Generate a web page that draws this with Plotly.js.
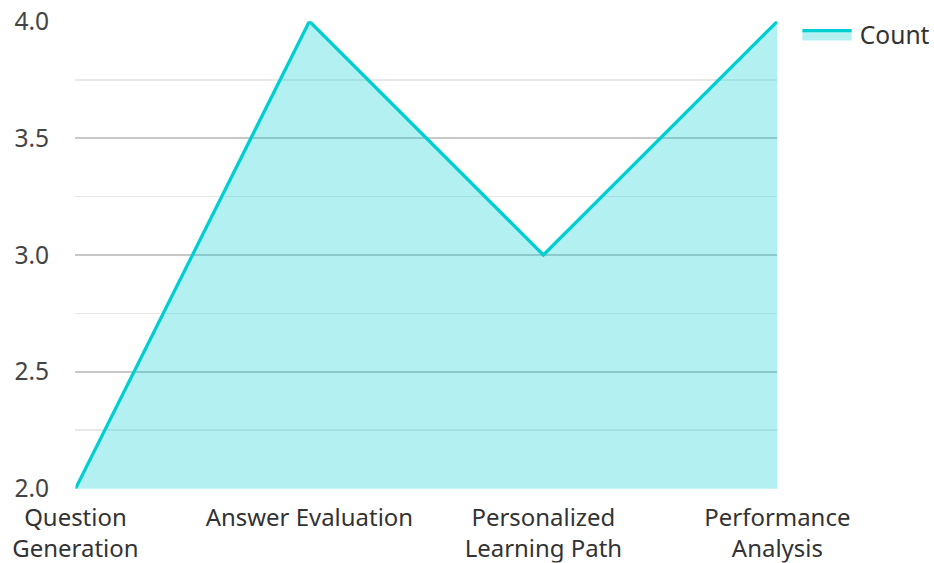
<!DOCTYPE html>
<html>
<head>
<meta charset="utf-8">
<script src="https://cdn.plot.ly/plotly-3.0.1.min.js"></script>
<style>
html,body{margin:0;padding:0;background:#fff;overflow:hidden;}
#wrap{width:934px;height:563px;overflow:hidden;}
#chart{transform-origin:0 0;}
</style>
</head>
<body>
<div id="wrap"><div id="chart"></div></div>
<script>
const categories = ["Question<br>Generation", "Answer Evaluation", "Personalized<br>Learning Path", "Performance<br>Analysis"];
const counts = [2, 4, 3, 4];
const seriesName = "Count";

const S = 1.64;
const W = 934 / S, H = 563 / S;
const el = document.getElementById("chart");
el.style.transform = "scale(" + S + ")";
el.style.width = W + "px";
el.style.height = H + "px";

const trace = {
  type: "scatter",
  mode: "lines",
  x: categories,
  y: counts,
  name: seriesName,
  fill: "tozeroy",
  fillcolor: "rgba(0,206,209,0.3)",
  line: {color: "#00CED1", width: 2}
};

const layout = {
  width: W,
  height: H,
  margin: {l: 75 / S, r: 158 / S, t: 22 / S, b: 74 / S, autoexpand: false},
  paper_bgcolor: "#fff",
  plot_bgcolor: "#fff",
  font: {family: "Noto Sans, Open Sans, sans-serif", size: 15, color: "#444"},
  showlegend: true,
  legend: {x: 1.024, y: 1.03, xanchor: "left", yanchor: "top", font: {size: 15, color: "#333"}},
  xaxis: {
    type: "category",
    range: [0, 3],
    showgrid: false,
    zeroline: false,
    showline: false,
    ticks: "",
    ticklabelstandoff: 7,
    tickfont: {size: 14.6, color: "#333"}
  },
  yaxis: {
    range: [2, 4],
    dtick: 0.5,
    tickformat: ".1f",
    showgrid: true,
    gridcolor: "#c8c8c8",
    gridwidth: 1,
    zeroline: false,
    showline: false,
    ticks: "",
    ticklabelstandoff: 15,
    minor: {dtick: 0.25, showgrid: true, gridcolor: "#e8e8e8", gridwidth: 1},
    tickfont: {size: 15, color: "#444"}
  }
};

Plotly.newPlot("chart", [trace], layout, {displayModeBar: false, staticPlot: true});
</script>
</body>
</html>
